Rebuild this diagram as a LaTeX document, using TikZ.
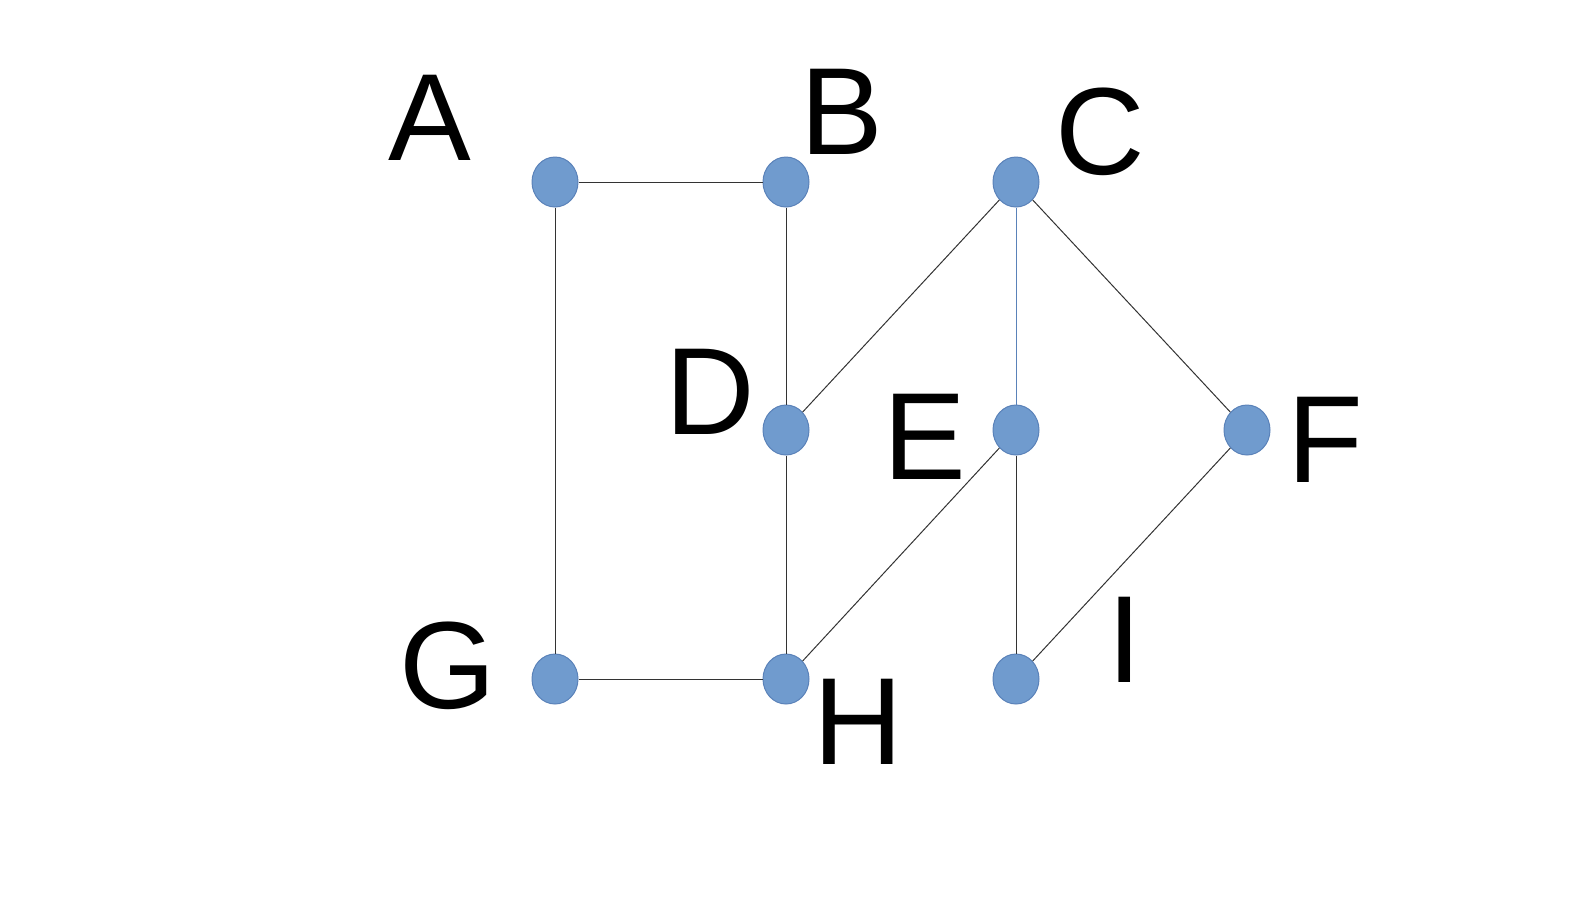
\documentclass[tikz,border=0pt]{standalone}
\usepackage{fontspec}
\setmainfont{Liberation Sans}
\usetikzlibrary{shapes.geometric}
\definecolor{nodeblue}{RGB}{112,155,206}
\definecolor{nodeedge}{RGB}{90,130,185}
\tikzset{
  vtx/.style={ellipse,fill=nodeblue,draw=nodeedge,line width=0.5pt,minimum width=23pt,minimum height=25pt,inner sep=0pt},
  lbl/.style={font=\fontsize{62}{70}\selectfont,inner sep=0pt},
  edge/.style={draw=black!80,line width=0.5pt}
}
\begin{document}
\begin{tikzpicture}[x=0.5pt,y=-0.5pt]
\useasboundingbox (0,0) rectangle (1580,912);
\node[vtx] (A) at (555,182) {};
\node[vtx] (B) at (786,182) {};
\node[vtx] (C) at (1016,182) {};
\node[vtx] (D) at (786,430) {};
\node[vtx] (E) at (1016,430) {};
\node[vtx] (F) at (1247,430) {};
\node[vtx] (G) at (555,679) {};
\node[vtx] (H) at (786,679) {};
\node[vtx] (I) at (1016,679) {};
\draw[edge] (A) -- (B);
\draw[edge] (A) -- (G);
\draw[edge] (B) -- (D);
\draw[edge] (D) -- (H);
\draw[edge] (G) -- (H);
\draw[edge] (C) -- (D);
\draw[draw=nodeedge,line width=0.5pt] (C) -- (E);
\draw[edge] (C) -- (F);
\draw[edge] (E) -- (H);
\draw[edge] (E) -- (I);
\draw[edge] (F) -- (I);
\node[lbl] (lA) at (430,118) {A};
\node[lbl] (lB) at (842,112) {B};
\node[lbl] (lC) at (1100,132) {C};
\node[lbl] (lD) at (710,392) {D};
\node[lbl] (lE) at (925,437) {E};
\node[lbl] (lF) at (1325,440) {F};
\node[lbl] (lG) at (448,666) {G};
\node[lbl] (lH) at (858,722) {H};
\node[lbl] (lI) at (1125,640) {I};
\end{tikzpicture}
\end{document}
